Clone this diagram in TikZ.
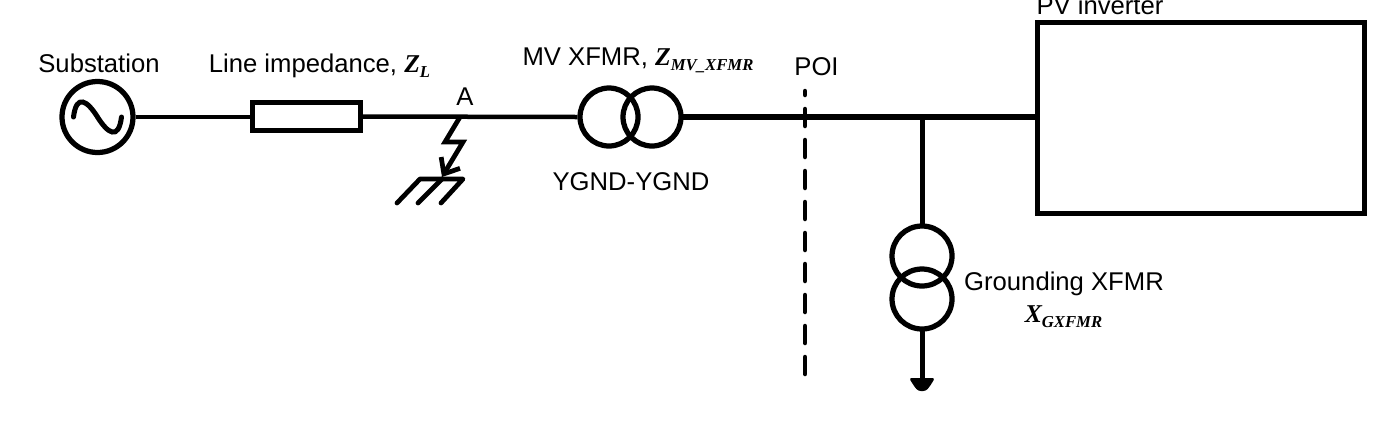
\documentclass[tikz,border=0pt]{standalone}
\usepackage{fontspec}
\setmainfont{Liberation Sans}
\newfontfamily\impfont{Liberation Serif}
\usetikzlibrary{arrows.meta}
\usetikzlibrary{positioning}
\newcommand{\impsym}[2]{{\impfont\bfseries\itshape #1\raisebox{-.22em}{\fontsize{9.5pt}{10pt}\selectfont #2}}}
\tikzstyle{wire}=[line width=1.1mm,line cap=round,line join=round]
\tikzstyle{thinwire}=[line width=.9mm]
\tikzstyle{xfmr}=[draw,circle,line width=1.05mm,inner sep=0pt,minimum size=11.6mm]
\tikzstyle{label}=[inner sep=0pt,anchor=base,font=\fontsize{14.6pt}{16pt}\selectfont]

\begin{document}
\begin{tikzpicture}[x=.2mm,y=-.2mm]
\useasboundingbox (0,0) rectangle (1385,426);

\node [xfmr,minimum size=14.2mm] (src) at (97.5,117) {};
\node [draw,line width=1mm,inner sep=0pt,minimum width=21.6mm,minimum height=5.6mm] (zl) at (306,116.5) {};
\node [xfmr] (mv1) at (609,117) {};
\node [xfmr] (mv2) at (652,117) {};
\node [draw,line width=1mm,inner sep=0pt,minimum width=65.4mm,minimum height=38.2mm] (pv) at (1200.5,117.5) {};
\node [xfmr,minimum size=12mm] (gx1) at (922,256) {};
\node [xfmr,minimum size=12mm] (gx2) at (922,299) {};

\coordinate (tee) at (922,118);
\coordinate (fault) at (460,117);
\coordinate (gnd) at (922,381);
\coordinate (poitop) at (805,91);
\coordinate (poibot) at (805,375);

% sine inside the source
\draw [line width=1mm,line cap=round] ([xshift=-4.8mm]src.center) .. controls +(3,-24) and +(-10,-16) .. (src.center) .. controls +(10,16) and +(-3,24) .. ([xshift=4.8mm]src.center);

\draw [thinwire] (src) -- (src -| zl.west);
\draw [thinwire] (zl.east) -- (mv1.west);
\draw [wire] (mv2.east) -- (pv.west |- mv2.east);
\draw [wire,line width=1mm] (tee) -- (gx1.north);
\draw [wire,line width=1mm] (gx2.south) -- (gnd);
\fill [rounded corners=1.5pt] (909,378) -- (935,378) -- (930,386) -- (926,391) -- (918,391) -- (914,386) -- cycle;

% fault to ground
\draw [line width=.95mm,line join=miter,-{Straight Barb[length=2.6mm,width=4.4mm,line width=.95mm]}] (fault) -- (445,142) -- (463,142) -- (442,177);
\draw [wire,line width=.95mm] (397,203) -- (420,179) -- (463,179) -- (441,203);
\draw [wire,line width=.95mm] (442,179) -- (418,203);

\draw [wire,line width=.9mm,dash pattern=on 3.4mm off 2.8mm,dash phase=2.6mm] (poitop) -- (poibot);

\node [label] (subst) at (99,72) {Substation};
\node [label] (linez) at (319.5,72) {Line impedance, \impsym{Z}{L}};
\node [label] (pta) at (465,105) {A};
\node [label] (mvname) at (638,65) {MV XFMR, \impsym{Z}{MV\_XFMR}};
\node [label] (yg) at (631,190) {YGND-YGND};
\node [label] (poi) at (816.5,75) {POI};
\node [label] (pvname) at (1100,14) {PV inverter};
\node [label] (gxname) at (1064,290) {Grounding XFMR};
\node [label] (gxz) at (1063.5,322) {\impsym{X}{GXFMR}};
\end{tikzpicture}
\end{document}
